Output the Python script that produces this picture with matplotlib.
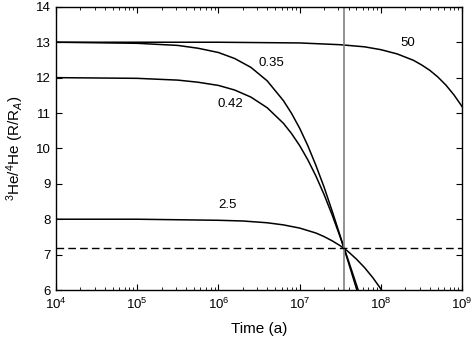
import numpy as np
import matplotlib
matplotlib.use("Agg")
import matplotlib.pyplot as plt

plt.rcParams.update({
    "font.family": ["Liberation Sans", "DejaVu Sans"],
    "mathtext.fontset": "custom",
    "mathtext.rm": "Liberation Sans",
    "mathtext.it": "Liberation Sans:italic",
    "mathtext.bf": "Liberation Sans:bold",
})

# 3He/4He (R/RA) against time (a) for each curve
t_035 = [1e4, 1e5, 3.162e5, 5.623e5, 1e6, 1.585e6, 2.512e6, 3.981e6, 6.310e6,
         7.943e6, 1e7, 1.259e7, 1.585e7, 1.995e7, 2.512e7, 3.162e7, 3.981e7,
         5.012e7, 6.310e7]
r_035 = [13.00, 12.97, 12.91, 12.83, 12.71, 12.54, 12.29, 11.91, 11.35,
         10.99, 10.57, 10.08, 9.52, 8.91, 8.23, 7.52, 6.78,
         6.03, 5.30]

t_042 = [1e4, 1e5, 3.162e5, 5.623e5, 1e6, 1.585e6, 2.512e6, 3.981e6, 6.310e6,
         7.943e6, 1e7, 1.259e7, 1.585e7, 1.995e7, 2.512e7, 3.162e7, 3.981e7,
         5.012e7, 6.310e7]
r_042 = [12.00, 11.98, 11.93, 11.87, 11.78, 11.65, 11.45, 11.15, 10.71,
         10.42, 10.08, 9.68, 9.22, 8.70, 8.12, 7.49, 6.83,
         6.14, 5.45]

t_25 = [1e4, 1e5, 1e6, 2e6, 3.981e6, 6.310e6, 1e7, 1.585e7, 1.995e7, 2.512e7,
        3.162e7, 3.981e7, 5.012e7, 6.310e7, 7.943e7, 1e8, 1.259e8]
r_25 = [8.00, 8.00, 7.97, 7.95, 7.90, 7.84, 7.75, 7.61, 7.51, 7.39,
        7.25, 7.08, 6.87, 6.63, 6.35, 6.03, 5.66]

t_50 = [1e4, 1e5, 1e6, 1e7, 3.162e7, 6.310e7, 1e8, 1.585e8, 2.512e8, 3.162e8,
        3.981e8, 5.012e8, 6.310e8, 7.943e8, 1e9]
r_50 = [13.00, 13.00, 13.00, 12.98, 12.93, 12.87, 12.79, 12.67, 12.49, 12.36,
        12.21, 12.02, 11.79, 11.51, 11.18]

curve_labels = ["0.35", "0.42", "2.5", "50"]
label_xy = [(4.45e6, 12.40), (1.42e6, 11.25), (1.28e6, 8.40), (2.14e8, 12.97)]

t_cross = 3.5e7     # vertical marker
r_cross = 7.2       # horizontal dashed reference

fig = plt.figure(figsize=(4.74, 3.42), dpi=100)
ax = fig.add_axes([0.118, 0.152, 0.857, 0.828])

for t, r in [(t_035, r_035), (t_042, r_042), (t_25, r_25), (t_50, r_50)]:
    ax.plot(t, r, color="k", lw=1.1)

ax.axvline(t_cross, color="0.5", lw=1.2)
ax.axhline(r_cross, color="k", lw=1.0, dashes=(5.5, 3))

for lab, (x, y) in zip(curve_labels, label_xy):
    ax.text(x, y, lab, ha="center", va="center", fontsize=9.5)

ax.set_xscale("log")
ax.set_xlim(1e4, 1e9)
ax.set_ylim(6, 14)
ax.set_yticks(range(6, 15))
ax.tick_params(which="both", direction="in", top=True, right=True,
               labelsize=9.5)
ax.tick_params(axis="x", pad=5)
ax.tick_params(which="major", length=4)
ax.tick_params(which="minor", length=2.5)
ax.set_xlabel("Time (a)", fontsize=11, labelpad=7)
ax.set_ylabel("$^3$He/$^4$He (R/R$_A$)", fontsize=11, labelpad=7)
for s in ax.spines.values():
    s.set_linewidth(1.0)

fig.savefig("out.png", dpi=100)
